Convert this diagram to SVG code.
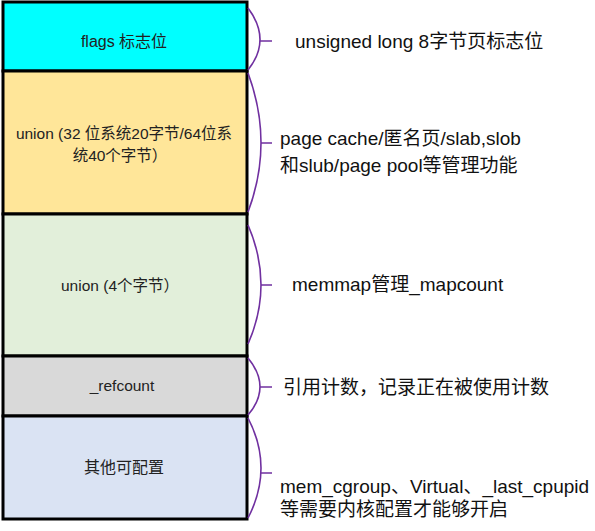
<svg xmlns="http://www.w3.org/2000/svg" width="595" height="531" viewBox="0 0 595 531">
<style>
.box{stroke:#000;stroke-width:3}
.lt{font-family:"Liberation Sans","Noto Sans CJK SC",sans-serif;font-size:15.5px;fill:#222;text-anchor:middle}
.rt{font-family:"Liberation Sans","Noto Sans CJK SC",sans-serif;font-size:19px;fill:#111}
.br{fill:none;stroke:#7030A0;stroke-width:1.6}
</style>
<rect width="595" height="531" fill="#fff"/>
<g id="flags"><rect class="box" x="3" y="2" width="244" height="69" fill="#00FFFF"/><text class="lt" x="124" y="47" style="font-size:16px">flags 标志位</text></g>
<g id="union1"><rect class="box" x="3" y="71" width="244" height="143" fill="#FFE699"/><text class="lt" x="124" y="139">union (32 位系统20字节/64位系</text><text class="lt" x="120" y="161">统40个字节）</text></g>
<g id="union2"><rect class="box" x="3" y="214" width="244" height="142" fill="#E2EFDA"/><text class="lt" x="120" y="291">union (4个字节）</text></g>
<g id="refcount"><rect class="box" x="3" y="356" width="244" height="60" fill="#D9D9D9"/><text class="lt" x="122" y="391">_refcount</text></g>
<g id="other"><rect class="box" x="3" y="416" width="244" height="103" fill="#DAE3F3"/><text class="lt" x="124" y="473" style="font-size:16px">其他可配置</text></g>
<g id="connectors">
<path class="br" d="M248,8 Q272,40 248,70 M260,41 H272"/>
<path class="br" d="M248,73 Q274,143 248,212 M261,143 H272"/>
<path class="br" d="M248,225 Q274,285 248,344 M261,285 H272"/>
<path class="br" d="M248,358 Q272,387 248,415 M260,387 H272"/>
<path class="br" d="M248,418 Q274,468 248,518 M261,473 H272"/>
</g>
<g id="labels">
<text class="rt" x="295" y="48">unsigned long 8字节页标志位</text>
<text class="rt" x="280" y="145">page cache/匿名页/slab,slob</text>
<text class="rt" x="280" y="172">和slub/page pool等管理功能</text>
<text class="rt" x="292" y="291">memmap管理_mapcount</text>
<text class="rt" x="283" y="394">引用计数，记录正在被使用计数</text>
<text class="rt" x="280" y="493">mem_cgroup、Virtual、_last_cpupid</text>
<text class="rt" x="280" y="516">等需要内核配置才能够开启</text>
</g>
</svg>
